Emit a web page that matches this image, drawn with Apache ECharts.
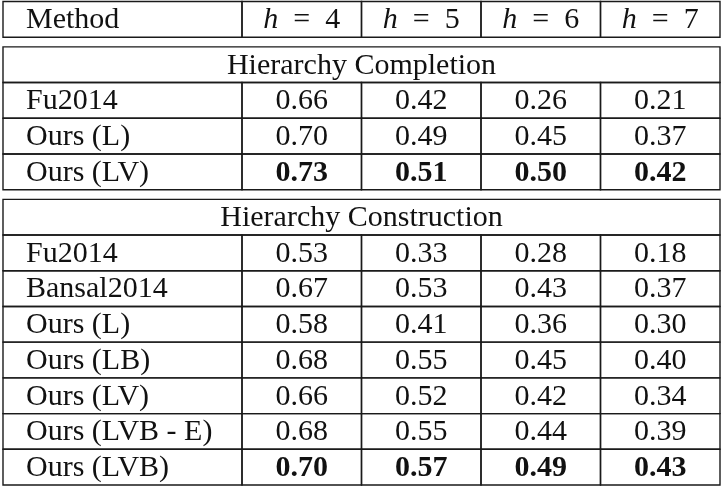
<!DOCTYPE html>
<html><head><meta charset="utf-8">
<script src="https://cdn.jsdelivr.net/npm/echarts@6/dist/echarts.min.js"></script>
<style>html,body{margin:0;padding:0;background:#fff}#c{width:725px;height:489px}</style>
</head><body><div id="c"></div>
<script>
var headerLabel = 'Method';
var hValues = [4, 5, 6, 7];
var sectionTitles = ['Hierarchy Completion', 'Hierarchy Construction'];
var completionMethods = ['Fu2014', 'Ours (L)', 'Ours (LV)'];
var completionValues = [
  [0.66, 0.42, 0.26, 0.21],
  [0.70, 0.49, 0.45, 0.37],
  [0.73, 0.51, 0.50, 0.42]
];
var constructionMethods = ['Fu2014', 'Bansal2014', 'Ours (L)', 'Ours (LB)', 'Ours (LV)', 'Ours (LVB - E)', 'Ours (LVB)'];
var constructionValues = [
  [0.53, 0.33, 0.28, 0.18],
  [0.67, 0.53, 0.43, 0.37],
  [0.58, 0.41, 0.36, 0.30],
  [0.68, 0.55, 0.45, 0.40],
  [0.66, 0.52, 0.42, 0.34],
  [0.68, 0.55, 0.44, 0.39],
  [0.70, 0.57, 0.49, 0.43]
];

var GAP = 0.27;
var FONT = '"Liberation Serif", serif';
var cells = [];
function addCell(x0, x1, y0, y1, text, kind, bold) {
  cells.push({ value: [x0, x1, y0, y1, cells.length], text: text, kind: kind, bold: !!bold });
}
var y = 0;
addCell(0, 2, y, y + 1, headerLabel, 'left');
hValues.forEach(function (h, j) { addCell(2 + j, 3 + j, y, y + 1, '{i|h}\u2002=\u2002' + h, 'center'); });
y += 1 + GAP;
function addBlock(title, methods, values) {
  addCell(0, 6, y, y + 1, title, 'center');
  y += 1;
  var maxes = hValues.map(function (_, j) { return Math.max.apply(null, values.map(function (r) { return r[j]; })); });
  methods.forEach(function (m, i) {
    addCell(0, 2, y, y + 1, m, 'left');
    values[i].forEach(function (v, j) { addCell(2 + j, 3 + j, y, y + 1, v.toFixed(2), 'center', v === maxes[j]); });
    y += 1;
  });
}
addBlock(sectionTitles[0], completionMethods, completionValues);
y += GAP;
addBlock(sectionTitles[1], constructionMethods, constructionValues);
var totalY = y;

var chart = echarts.init(document.getElementById('c'), null, { renderer: 'canvas' });
chart.setOption({
  animation: false,
  grid: { left: 3, right: 5, top: 1.5, bottom: 4 },
  xAxis: { type: 'value', min: 0, max: 6, show: false },
  yAxis: { type: 'value', min: 0, max: totalY, inverse: true, show: false },
  series: [{
    type: 'custom',
    data: cells,
    encode: { x: [0, 1], y: [2, 3] },
    renderItem: function (params, api) {
      var c = cells[api.value(4)];
      var p0 = api.coord([api.value(0), api.value(2)]);
      var p1 = api.coord([api.value(1), api.value(3)]);
      var cy = (p0[1] + p1[1]) / 2 + 1;
      var tx = c.kind === 'left' ? p0[0] + 23 : (p0[0] + p1[0]) / 2;
      return {
        type: 'group',
        children: [
          { type: 'rect', shape: { x: p0[0], y: p0[1], width: p1[0] - p0[0], height: p1[1] - p0[1] },
            style: { fill: null, stroke: '#1a1a1a', lineWidth: 1.4 } },
          { type: 'text', style: {
              text: c.text, x: tx, y: cy,
              align: c.kind === 'left' ? 'left' : 'center', verticalAlign: 'middle',
              fontFamily: FONT, fontSize: 30, fontWeight: c.bold ? 'bold' : 'normal', fill: '#111',
              rich: { i: { fontStyle: 'italic', fontFamily: FONT, fontSize: 30, fill: '#111' } }
          } }
        ]
      };
    }
  }]
});
</script></body></html>
